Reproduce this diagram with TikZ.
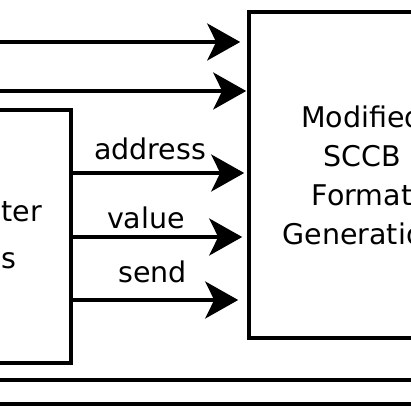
\documentclass[tikz,border=0pt]{standalone}
\usepackage{fontspec}
\setmainfont{DejaVu Sans}
\usetikzlibrary{arrows.meta}
\begin{document}
\begin{tikzpicture}[x=1pt,y=-1pt,
  ln/.style={line width=3.6pt},
  arr/.style={ln,-{Stealth[length=33pt,width=37pt,inset=9pt]}},
  box/.style={draw,line width=3.6pt,rectangle,inner sep=0pt},
  lbl/.style={font=\fontsize{28.5}{39}\selectfont,inner sep=0pt}]
\useasboundingbox (0,0) rectangle (411,411);
\fill[white] (0,0) rectangle (411,411);
\clip (0,0) rectangle (411,411);
% boxes
\node[box,minimum width=200pt,minimum height=253pt] (lb) at (-29,236.5) {};
\node[box,minimum width=300pt,minimum height=326pt] (rb) at (399,175) {};
% box texts
\node[lbl,anchor=base east] (t1) at (42,222) {ster};
\node[lbl,anchor=base east] (t2) at (17,268) {s};
\node[lbl,align=center,anchor=north] (rt) at (362,106) {Modified\\SCCB\\Format\\Generation};
% incoming arrows from the left
\coordinate (in1) at (-10,42);
\coordinate (in2) at (-10,91);
\draw[arr,shorten >=7pt] (in1) -- (rb.west |- in1);
\draw[arr,shorten >=1pt] (in2) -- (rb.west |- in2);
% signals
\coordinate (ya) at (0,173);
\coordinate (yv) at (0,237);
\coordinate (ys) at (0,300);
\draw[arr,shorten >=3pt] (lb.east |- ya) -- (rb.west |- ya);
\draw[arr,shorten >=5pt] (lb.east |- yv) -- (rb.west |- yv);
\draw[arr,shorten >=9pt] (lb.east |- ys) -- (rb.west |- ys);
\node[lbl,anchor=base] (la) at (150,160) {address};
\node[lbl,anchor=base] (lv) at (146,228) {value};
\node[lbl,anchor=base] (ls) at (152.5,282) {send};
% bottom lines
\coordinate (b1l) at (-10,380);
\coordinate (b1r) at (421,380);
\coordinate (b2l) at (-10,404);
\coordinate (b2r) at (421,404);
\draw[ln] (b1l) -- (b1r);
\draw[ln] (b2l) -- (b2r);
\end{tikzpicture}
\end{document}
